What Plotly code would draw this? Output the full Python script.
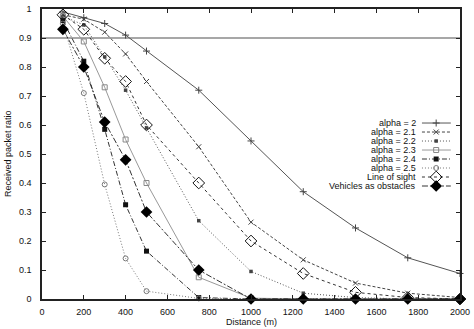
import plotly.graph_objects as go

# Distance (m) at which the packet ratio was measured
distance = [100, 200, 300, 400, 500, 750, 1000, 1250, 1500, 1750, 2000]

# Received packet ratio per propagation model
alpha_2_0 = [0.99, 0.97, 0.95, 0.91, 0.855, 0.72, 0.545, 0.37, 0.245, 0.142, 0.088]
alpha_2_1 = [0.98, 0.965, 0.92, 0.845, 0.75, 0.525, 0.265, 0.135, 0.055, 0.02, 0.005]
alpha_2_2 = [0.975, 0.945, 0.835, 0.72, 0.59, 0.27, 0.095, 0.02, 0.005, 0.0, 0.0]
alpha_2_3 = [0.975, 0.888, 0.73, 0.55, 0.40, 0.075, 0.003, 0.0, 0.0, 0.0, 0.0]
alpha_2_4 = [0.96, 0.82, 0.585, 0.325, 0.165, 0.005, 0.0, 0.0, 0.0, 0.0, 0.0]
alpha_2_5 = [0.95, 0.71, 0.395, 0.14, 0.027, 0.002, 0.0, 0.0, 0.0, 0.0, 0.0]
line_of_sight = [0.98, 0.93, 0.83, 0.75, 0.60, 0.40, 0.20, 0.088, 0.023, 0.005, 0.0]
vehicles_obstacles = [0.93, 0.80, 0.61, 0.48, 0.30, 0.10, 0.0, 0.0, 0.0, 0.0, 0.0]

series_names = ["alpha = 2", "alpha = 2.1", "alpha = 2.2", "alpha = 2.3",
                "alpha = 2.4", "alpha = 2.5", "Line of sight", "Vehicles as obstacles"]
series_values = [alpha_2_0, alpha_2_1, alpha_2_2, alpha_2_3,
                 alpha_2_4, alpha_2_5, line_of_sight, vehicles_obstacles]

THRESHOLD = 0.9
x_ticks = list(range(0, 2001, 200))
y_ticks = [round(i * 0.1, 1) for i in range(11)]

# gnuplot-like styles: (line colour, dash, marker symbol, marker size, marker fill)
styles = [
    dict(color="#555555", dash="solid", symbol="cross-thin", size=5, fill="#444444"),
    dict(color="#444444", dash="3px,2px", symbol="x-thin", size=5, fill="#444444"),
    dict(color="#555555", dash="1px,2px", symbol="square", size=3.5, fill="#444444"),
    dict(color="#999999", dash="solid", symbol="square-open", size=5, fill="#888888"),
    dict(color="#333333", dash="5px,2px,1px,2px", symbol="square", size=5, fill="#111111"),
    dict(color="#777777", dash="1px,2px", symbol="circle-open", size=5, fill="#777777"),
    dict(color="#333333", dash="3px,3px", symbol="diamond-open", size=9, fill="#111111"),
    dict(color="#333333", dash="6px,2px,2px,2px", symbol="diamond", size=9, fill="#000000"),
]


def marker_line_width(symbol):
    return 1 if symbol in ("cross-thin", "x-thin") or symbol.endswith("open") else 0


FONT = "Liberation Sans, Arial, sans-serif"
FONT_SIZE = 9

fig = go.Figure()

for name, vals, st in zip(series_names, series_values, styles):
    fig.add_trace(go.Scatter(
        x=distance, y=vals, name=name, mode="lines+markers",
        line=dict(color=st["color"], width=1, dash=st["dash"]),
        marker=dict(symbol=st["symbol"], size=st["size"], color=st["fill"],
                    line=dict(color=st["fill"], width=marker_line_width(st["symbol"]))),
        cliponaxis=False, showlegend=False,
    ))

# Key drawn gnuplot style: label on the left, line sample on the right
key_text_x = 0.897
key_x0, key_x1, key_xm = 0.909, 0.978, 0.943
key_top, key_step = (299 - 120) / 295, 9.15 / 295
for i, (name, st) in enumerate(zip(series_names, styles)):
    ky = key_top - i * key_step
    fig.add_trace(go.Scatter(
        x=[key_x0, key_xm, key_x1], y=[ky, ky, ky], xaxis="x2", yaxis="y2",
        mode="lines", line=dict(color=st["color"], width=1, dash=st["dash"]),
        showlegend=False, hoverinfo="skip",
    ))
    fig.add_trace(go.Scatter(
        x=[key_xm], y=[ky], xaxis="x2", yaxis="y2", mode="markers",
        marker=dict(symbol=st["symbol"], size=st["size"], color=st["fill"],
                    line=dict(color=st["fill"], width=marker_line_width(st["symbol"]))),
        showlegend=False, hoverinfo="skip", cliponaxis=False,
    ))
    fig.add_annotation(x=key_text_x, y=ky, xref="x2", yref="y2", text=name,
                       showarrow=False, xanchor="right", yanchor="middle",
                       borderpad=0, font=dict(family=FONT, size=FONT_SIZE, color="#111111"))

# 90% reference line
fig.add_shape(type="line", xref="x", yref="y", x0=x_ticks[0], x1=x_ticks[-1],
              y0=THRESHOLD, y1=THRESHOLD, layer="below",
              line=dict(color="#8a8a8a", width=1.6))

axis_common = dict(ticks="inside", ticklen=4, tickwidth=1, tickcolor="#222222",
                   showline=True, linewidth=1.5, linecolor="#222222", mirror="ticks",
                   showgrid=False, zeroline=False,
                   tickfont=dict(family=FONT, size=FONT_SIZE, color="#111111"))

fig.update_layout(
    width=474, height=329,
    margin=dict(l=42, r=13, t=4, b=30),
    paper_bgcolor="white", plot_bgcolor="white",
    xaxis=dict(range=[0, 2000], tickvals=x_ticks, ticklabelstandoff=3, **axis_common),
    yaxis=dict(range=[0, 1], tickvals=y_ticks, ticklabelstandoff=7, **axis_common),
    xaxis2=dict(range=[0, 1], overlaying="x", anchor="y2", visible=False, fixedrange=True),
    yaxis2=dict(range=[0, 1], overlaying="y", anchor="x2", visible=False, fixedrange=True),
    showlegend=False,
)

fig.add_annotation(text="Received packet ratio", xref="paper", yref="paper",
                   x=(8 - 42) / 419, y=0.5, textangle=-90, showarrow=False,
                   xanchor="center", yanchor="middle", borderpad=0,
                   font=dict(family=FONT, size=FONT_SIZE, color="#111111"))
fig.add_annotation(text="Distance (m)", xref="paper", yref="paper",
                   x=(252 - 42) / 419, y=-(322 - 299) / 295, showarrow=False,
                   xanchor="center", yanchor="middle", borderpad=0,
                   font=dict(family=FONT, size=FONT_SIZE, color="#111111"))

fig.write_html("out.html")
